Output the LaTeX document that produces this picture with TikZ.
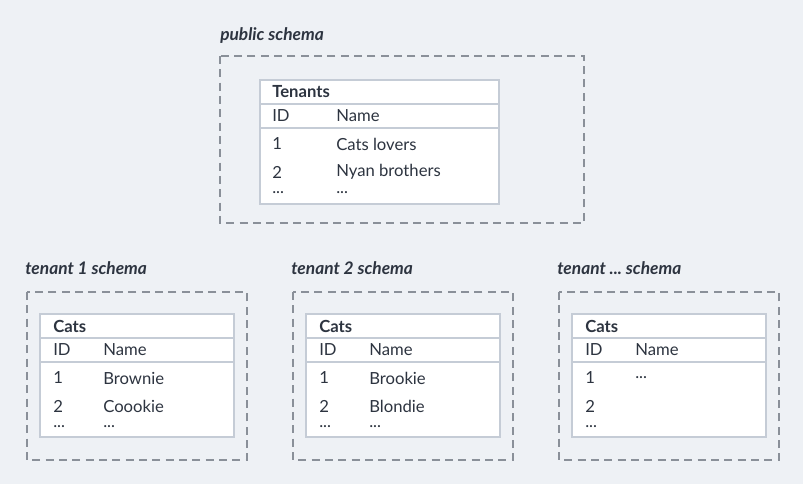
\documentclass[tikz,border=0pt]{standalone}
\usepackage{fontspec}
\setmainfont{Lato}
\usepackage{xcolor}
\definecolor{bgpaper}{HTML}{EEF1F5}
\definecolor{ink}{HTML}{2D3440}
\definecolor{rule}{HTML}{C5CCD6}
\definecolor{dash}{HTML}{8A9099}
\usetikzlibrary{positioning}

\tikzset{
  schemabox/.style={draw=dash, thick, dash pattern=on 6pt off 4pt},
  tablebox/.style={draw=rule, line width=1.5pt, fill=white},
  rowline/.style={draw=rule, line width=1.5pt},
  cell/.style={anchor=west, inner sep=0pt, text=ink, font=\fontsize{12.5}{13}\selectfont},
  head/.style={cell, font=\fontsize{12.5}{13}\selectfont\bfseries},
  schemalabel/.style={anchor=west, inner sep=0pt, text=ink, font=\fontsize{13}{14}\selectfont\bfseries\itshape}
}

\begin{document}
\begin{tikzpicture}[x=0.75pt, y=-0.75pt]
  \fill[bgpaper] (0,0) rectangle (803,484);
  \useasboundingbox (0,0) rectangle (803,484);

  % --- public schema ---
  \node[schemalabel] (publbl) at (220,36) {public schema};
  \draw[schemabox] (220,56) rectangle (584,223);
  \draw[tablebox] (260,80) rectangle (499,204);
  \draw[rowline] (260,104) -- (499,104);
  \draw[rowline] (260,128) -- (499,128);
  \node[head] (tenhead) at (272,92) {Tenants};
  \node[cell] (tenid) at (272,116) {ID};
  \node[cell] (tenname) at (336,116) {Name};
  \node[cell] (tenidA) at (272,144) {1};
  \node[cell] (tennameA) at (336,144) {Cats lovers};
  \node[cell] (tenidB) at (272,172) {2};
  \node[cell] (tennameB) at (336,172) {Nyan brothers};
  \node[cell] (tenidC) at (272,193) {...};
  \node[cell] (tennameC) at (336,193) {...};

  % --- tenant schemas ---
  \foreach \x/\n/\lbl/\na/\nb/\nc in {27/a/1/Brownie/Coookie/{...},
                                     293/b/2/Brookie/Blondie/{...},
                                     559/c/{...}/{...}/{}/{}} {
    \begin{scope}[xshift=\x*0.75pt]
      \node[schemalabel] (lbl\n) at (-2,268) {tenant \lbl\ schema};
      \draw[schemabox] (0,292) rectangle (220,460);
      \draw[tablebox] (13,314) rectangle (207,437);
      \draw[rowline] (13,338) -- (207,338);
      \draw[rowline] (13,362) -- (207,362);
      \node[head] (head\n) at (26,326) {Cats};
      \node[cell] (id\n) at (26,350) {ID};
      \node[cell] (name\n) at (76,350) {Name};
      \node[cell] (idA\n) at (26,378) {1};
      \node[cell] (nameA\n) at (76,378) {\na};
      \node[cell] (idB\n) at (26,406) {2};
      \node[cell] (nameB\n) at (76,406) {\nb};
      \node[cell] (idC\n) at (26,427) {...};
      \node[cell] (nameC\n) at (76,427) {\nc};
    \end{scope}
  }
\end{tikzpicture}
\end{document}
